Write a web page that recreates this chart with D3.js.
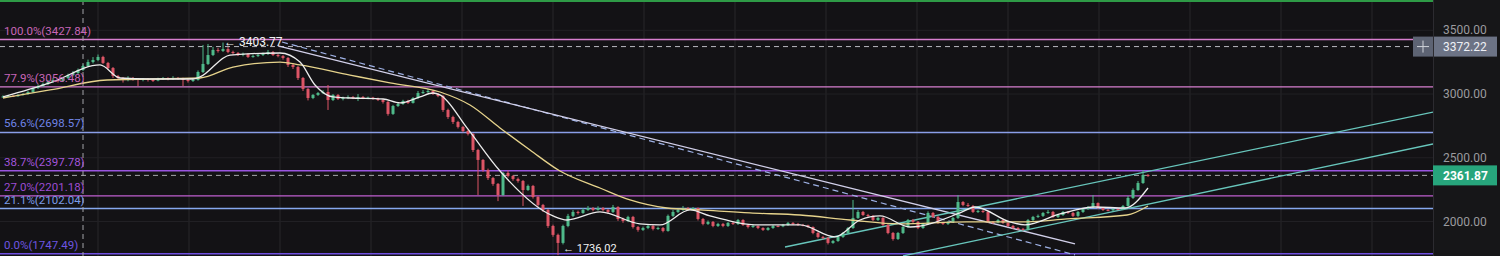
<!DOCTYPE html>
<html><head><meta charset="utf-8">
<script src="https://cdn.jsdelivr.net/npm/d3@7"></script>
<style>html,body{margin:0;padding:0;background:#131215;overflow:hidden}svg{display:block}</style>
</head><body><svg id="c" width="1500" height="256"></svg>
<script>
// ---------- data ----------
const firstOpen = 2977;
const closes = [2981,2985,2983,2993,3000,3016,3047,3063,3079,3095,
 3110,3102,3126,3149,3165,3189,3220,3251,3267,3291,
 3244,3204,3142,3126,3110,3126,3118,3110,3118,3110,
 3106,3118,3126,3118,3126,3122,3110,3102,3110,3173,
 3236,3306,3346,3338,3353,3330,3322,3306,3314,3291,
 3298,3306,3314,3330,3306,3298,3283,3228,3212,3126,
 3040,2969,2993,3008,3016,2953,2993,2961,2969,2977,
 2969,2977,2969,2972,2965,2953,2938,2844,2906,2922,
 2945,2930,2969,3008,3016,3024,3000,2985,2875,2820,
 2781,2742,2710,2687,2561,2483,2404,2341,2295,2208,
 2381,2357,2334,2318,2247,2279,2192,2130,2091,1965,
 1895,1832,1965,2044,2075,2067,2091,2106,2091,2106,
 2091,2075,2114,2020,2004,2036,1957,1934,1949,1965,
 1942,1949,1926,2044,2075,2091,2106,2098,2106,2020,
 1981,1997,1965,1981,1965,1989,1981,2012,1973,1957,
 1965,1949,1934,1949,1965,1962,1973,1989,1981,1973,
 1970,1957,1910,1879,1871,1832,1847,1879,1910,1949,
 2028,2075,2051,2044,2012,2028,1973,1910,1863,1910,
 1957,2012,1997,1949,1981,2067,2036,1989,1981,1997,
 2028,2153,2130,2122,2075,2083,2075,1997,1993,2012,
 1989,1965,1949,1942,1938,2012,2036,2044,2067,2075,
 2036,2051,2075,2067,2044,2075,2098,2114,2145,2106,
 2091,2088,2098,2095,2122,2185,2247,2302,2365,2361.87];
const highs = [2990,2993,2992,3000,3008,3024,3055,3075,3090,3110,
 3125,3120,3135,3160,3180,3200,3232,3270,3290,3310,
 3300,3252,3212,3150,3134,3140,3134,3126,3126,3124,
 3118,3128,3134,3132,3140,3134,3128,3118,3120,3185,
 3385,3393,3370,3362,3403.77,3369,3340,3330,3325,3320,
 3310,3318,3325,3346,3338,3314,3306,3290,3240,3220,
 3134,3047,3000,3016,3030,3071,3000,3000,2980,2990,
 2985,3000,2985,2980,2978,2972,2960,2945,2915,2930,
 2955,2955,2977,3024,3032,3040,3032,3008,2993,2885,
 2830,2790,2750,2720,2695,2570,2490,2415,2350,2302,
 2390,2400,2365,2345,2326,2290,2287,2200,2138,2098,
 1975,1905,1975,2060,2090,2085,2106,2122,2114,2120,
 2114,2098,2130,2120,2030,2045,2044,1965,1960,1975,
 1973,1960,1957,2055,2090,2106,2122,2114,2114,2110,
 2028,2008,2004,1990,1989,1997,1997,2020,2018,1981,
 1973,1970,1955,1957,1973,1970,1981,1997,1995,1989,
 1981,1975,1962,1918,1887,1879,1855,1887,1918,1957,
 2169,2090,2083,2060,2051,2036,2036,1981,1918,1918,
 1965,2020,2020,2004,1989,2080,2075,2044,1997,2004,
 2036,2208,2160,2145,2130,2091,2091,2083,2004,2020,
 2020,1997,1973,1957,1950,2020,2044,2055,2075,2090,
 2083,2060,2083,2083,2075,2083,2106,2122,2208,2150,
 2114,2098,2106,2106,2130,2200,2260,2318,2404,2372];
const lows = [2970,2975,2976,2978,2988,2995,3010,3040,3055,3070,
 3088,3090,3095,3118,3140,3155,3180,3212,3240,3258,
 3236,3190,3126,3110,3090,3100,3105,3063,3100,3098,
 3095,3100,3110,3108,3110,3112,3063,3090,3095,3105,
 3165,3228,3298,3325,3330,3320,3310,3298,3296,3283,
 3285,3290,3298,3306,3298,3288,3270,3212,3196,3110,
 3024,2950,2960,2985,3000,2875,2945,2953,2950,2960,
 2960,2945,2960,2960,2955,2945,2925,2830,2836,2898,
 2915,2922,2925,2960,3000,3008,2993,2975,2860,2805,
 2765,2730,2700,2675,2545,2208,2390,2326,2280,2160,
 2200,2345,2320,2305,2122,2240,2180,2115,2075,1950,
 1880,1736.02,1820,1955,2035,2055,2060,2083,2080,2085,
 2080,2060,2067,2005,1990,1995,1945,1920,1926,1940,
 1930,1934,1915,1920,2036,2067,2083,2088,2090,2008,
 1970,1973,1955,1957,1955,1957,1973,1973,1965,1946,
 1950,1940,1926,1928,1942,1955,1955,1965,1973,1965,
 1962,1950,1900,1868,1860,1820,1825,1840,1871,1902,
 1942,2020,2044,2036,2004,2004,1965,1900,1850,1855,
 1902,1950,1989,1940,1942,1973,2028,1981,1973,1973,
 1989,2020,2120,2114,2067,2067,2067,1989,1981,1985,
 1981,1957,1940,1934,1928,1930,2004,2028,2036,2060,
 2028,2028,2044,2060,2036,2036,2067,2091,2106,2098,
 2083,2080,2080,2088,2088,2114,2177,2240,2295,2350];

const fibPct = [100.0, 77.9, 56.6, 38.7, 27.0, 21.1, 0.0];
const fibVal = [3427.84, 3056.48, 2698.57, 2397.78, 2201.18, 2102.04, 1747.49];
const axisTicks = [2000, 2500, 3000, 3500];

// moving averages: [candle index, price]
const maShort = [[0,2977],[9.4,3087],[19.4,3228],[23.4,3126],[29.4,3118],[38,3118],[39.4,3134],
 [45.4,3306],[55.4,3322],[59.4,3251],[62.4,3071],[66,2977],[69.4,2969],[76,2961],[79.4,2930],
 [83.4,2977],[86,3008],[87.4,2993],[92.8,2734],[99.4,2396],[110,2044],[112.8,2012],[119.4,2075],
 [127.4,1981],[131.4,1973],[137.4,2091],[141.4,2044],[151.4,1973],[159.4,1973],[166.4,1879],
 [171.4,2012],[175.4,2044],[181.4,1957],[191.4,2067],[194.4,2114],[201.4,1997],[204.4,1973],
 [211.4,2059],[218.4,2114],[224.4,2106],[229,2263]];
const maLong = [[0,2969],[9.4,3032],[20.8,3110],[39.4,3126],[46,3212],[55.4,3251],[59.4,3228],
 [69.4,3149],[77.4,3087],[87.4,3016],[93.4,2914],[99.4,2734],[105.4,2561],[111.4,2396],
 [119.4,2263],[125.4,2169],[132.8,2106],[139.4,2091],[149.4,2067],[159.4,2051],[169.4,2012],
 [179.4,1981],[192.8,1997],[204.8,1997],[212.8,2020],[224.8,2051],[229,2122]];

const trendSolid = [[55,3377],[214.4,1824]];
const trendDashed = [[55.8,3408],[214.4,1738]];
const channelUpper = [[156.4,1800],[286,2858]];
const channelLower = [[180,1730],[286,2608]];

const highMark = {idx:44, value:3403.77};
const lowMark = {idx:111, value:1736.02};
const crosshairPrice = 3372.22, crosshairIdx = 16;
const lastPrice = 2361.87;

// ---------- styles ----------
const fibLineColor = ["#d77fcf","#d77fcf","#8a9ee8","#9a55e0","#c05fd0","#86a8ee","#6f4fe0"];
const fibTextColor = ["#c866b8","#c866b8","#6f84e6","#a455dc","#9d4cd2","#7b9ce8","#6e55e0"];

const W = 1500, H = 256, plotR = 1433;
const svg = d3.select("#c");
const opens = closes.map((c,i)=> i===0 ? firstOpen : closes[i-1]);

const x = d3.scaleLinear().domain([0, 229]).range([3, 1148]);
const y = d3.scaleLinear().domain([1747.49, 3427.84]).range([253.7, 39.5]);

svg.append("rect").attr("width",W).attr("height",H).attr("fill","#131215");
svg.append("rect").attr("x",plotR).attr("width",W-plotR).attr("height",H).attr("fill","#161618");

const defs = svg.append("defs");
defs.append("clipPath").attr("id","clip").append("rect").attr("x",0).attr("y",0).attr("width",plotR).attr("height",H);
const g = svg.append("g").attr("clip-path","url(#clip)");

// grid
const gridIdx = d3.range(19, 290, 18.2);
g.selectAll(".vg").data(gridIdx).join("line")
 .attr("x1",d=>x(d)).attr("x2",d=>x(d)).attr("y1",0).attr("y2",H)
 .attr("stroke","#28272b").attr("stroke-width",1);
g.selectAll(".hg").data(axisTicks).join("line")
 .attr("x1",0).attr("x2",plotR).attr("y1",d=>y(d)).attr("y2",d=>y(d))
 .attr("stroke","#212024").attr("stroke-width",1);

// top green line
svg.append("line").attr("x1",0).attr("x2",plotR).attr("y1",1).attr("y2",1).attr("stroke","#2e9a46").attr("stroke-width",2);

// fib lines
g.selectAll(".fib").data(fibVal).join("line")
 .attr("x1",0).attr("x2",plotR).attr("y1",d=>y(d)).attr("y2",d=>y(d))
 .attr("stroke",(d,i)=>fibLineColor[i]).attr("stroke-width",1.4);

// crosshair
g.append("line").attr("x1",0).attr("x2",1413).attr("y1",y(crosshairPrice)).attr("y2",y(crosshairPrice))
 .attr("stroke","#b9b9c0").attr("stroke-width",1).attr("stroke-dasharray","5,4");
g.append("line").attr("x1",x(crosshairIdx)).attr("x2",x(crosshairIdx)).attr("y1",0).attr("y2",H)
 .attr("stroke","#a3a3a9").attr("stroke-width",1).attr("stroke-dasharray","5,4");
// last price line
g.append("line").attr("x1",0).attr("x2",plotR).attr("y1",y(lastPrice)).attr("y2",y(lastPrice))
 .attr("stroke","#a6a6ab").attr("stroke-width",1).attr("stroke-dasharray","5,4");

// trend lines
const pl = d3.line().x(d=>x(d[0])).y(d=>y(d[1]));
g.append("path").attr("d",pl(trendDashed)).attr("fill","none").attr("stroke","#9fb2e6").attr("stroke-width",1.2).attr("stroke-dasharray","6,4");
g.append("path").attr("d",pl(trendSolid)).attr("fill","none").attr("stroke","#d2d0ea").attr("stroke-width",1.3);
g.append("path").attr("d",pl(channelUpper)).attr("fill","none").attr("stroke","#68c6bc").attr("stroke-width",1.3);
g.append("path").attr("d",pl(channelLower)).attr("fill","none").attr("stroke","#68c6bc").attr("stroke-width",1.3);

// candles
const idx = d3.range(closes.length);
const up = i => closes[i] >= opens[i];
const colUp = "#4fb98a", colDn = "#dd5566";
g.selectAll(".wick").data(idx).join("line")
 .attr("x1",i=>x(i)).attr("x2",i=>x(i)).attr("y1",i=>y(highs[i])).attr("y2",i=>y(lows[i]))
 .attr("stroke",i=>up(i)?colUp:colDn).attr("stroke-width",1);
g.selectAll(".body").data(idx).join("rect")
 .attr("x",i=>x(i)-1.5).attr("width",3)
 .attr("y",i=>y(Math.max(opens[i],closes[i])))
 .attr("height",i=>Math.max(1,Math.abs(y(opens[i])-y(closes[i]))))
 .attr("fill",i=>up(i)?colUp:colDn);

// moving averages
const ml = d3.line().x(d=>x(d[0])).y(d=>y(d[1])).curve(d3.curveMonotoneX);
g.append("path").attr("d",ml(maLong)).attr("fill","none").attr("stroke","#e6d38c").attr("stroke-width",1.3);
g.append("path").attr("d",ml(maShort)).attr("fill","none").attr("stroke","#ececec").attr("stroke-width",1.3);

// fib labels
const font = "Roboto, 'Liberation Sans', Arial, sans-serif";
g.selectAll(".fl").data(fibVal).join("text")
 .attr("x",4).attr("y",d=>y(d)-5)
 .attr("fill",(d,i)=>fibTextColor[i]).attr("font-family",font).attr("font-size",11.5)
 .text((d,i)=>`${fibPct[i].toFixed(1)}%(${d.toFixed(2)})`);

// high/low markers
g.append("text").attr("x",x(highMark.idx)+1).attr("y",y(highMark.value)+3.5)
 .attr("fill","#f2f2f2").attr("font-family",font).attr("font-size",12)
 .text("\u2190 " + highMark.value.toFixed(2));
g.append("text").attr("x",x(lowMark.idx)+5).attr("y",H-4)
 .attr("fill","#f2f2f2").attr("font-family",font).attr("font-size",11)
 .text("\u2190 " + lowMark.value.toFixed(2));

// right axis
svg.append("line").attr("x1",plotR+0.5).attr("x2",plotR+0.5).attr("y1",0).attr("y2",H).attr("stroke","#2c2b30");
svg.selectAll(".ax").data(axisTicks).join("text")
 .attr("x",1443).attr("y",d=>y(d)+4).attr("fill","#9b9b9f")
 .attr("font-family",font).attr("font-size",12).text(d=>d.toFixed(2));

// crosshair price box
const cy = y(crosshairPrice);
svg.append("rect").attr("x",1413).attr("y",cy-10).attr("width",20).attr("height",20).attr("fill","#5d6373");
svg.append("path").attr("d",`M1423,${cy-6}V${cy+6}M1417,${cy}H1429`).attr("stroke","#d0d3da").attr("stroke-width",1);
svg.append("rect").attr("x",1434).attr("y",cy-10).attr("width",63).attr("height",20).attr("fill","#6c7385");
svg.append("text").attr("x",1443).attr("y",cy+4.5).attr("fill","#eef0f5")
 .attr("font-family",font).attr("font-size",12).text(crosshairPrice.toFixed(2));

// last price box
const ly = y(lastPrice);
svg.append("rect").attr("x",1433).attr("y",ly-10).attr("width",64).attr("height",20).attr("fill","#27a57c");
svg.append("text").attr("x",1443).attr("y",ly+4.5).attr("fill","#ffffff").attr("font-weight","bold")
 .attr("font-family",font).attr("font-size",12).text(lastPrice.toFixed(2));
</script></body></html>
